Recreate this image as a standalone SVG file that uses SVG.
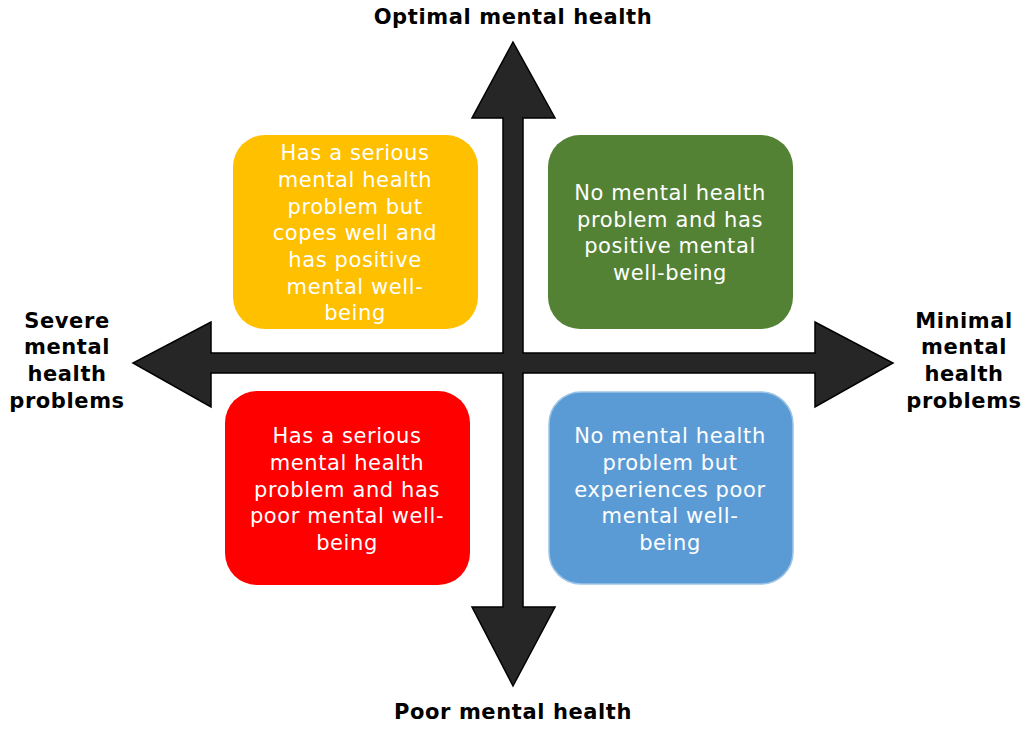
<svg xmlns="http://www.w3.org/2000/svg" width="1036" height="744" viewBox="0 0 1036 744">
<style>
.box text { font-family: "DejaVu Sans", Verdana, sans-serif; font-size: 21px; letter-spacing: 0.6px; fill: #fff; text-anchor: middle; }
text.lab { font-family: "DejaVu Sans", Verdana, sans-serif; font-size: 21px; letter-spacing: 0.6px; font-weight: bold; fill: #000; text-anchor: middle; }
</style>
<rect width="1036" height="744" fill="#fff"/>
<g id="connectors">
<path d="M513,42 L555,118 L523,118 L523,353 L815,353 L815,322 L893,363 L815,407 L815,373 L523,373 L523,607 L555,607 L513,686 L472,607 L503,607 L503,373 L211,373 L211,407 L133,363 L211,322 L211,353 L503,353 L503,118 L472,118 Z" fill="#262626" stroke="#000" stroke-width="1.5" stroke-linejoin="miter"/>
</g>
<g id="box-yellow" class="box">
<rect x="233" y="135" width="245" height="194" rx="32" fill="#FFC000"/>
<text x="355" y="160">Has a serious</text>
<text x="355" y="187">mental health</text>
<text x="355" y="214">problem but</text>
<text x="355" y="240">copes well and</text>
<text x="355" y="267">has positive</text>
<text x="355" y="294">mental well-</text>
<text x="355" y="320">being</text>
</g>
<g id="box-green" class="box">
<rect x="548" y="135" width="245" height="194" rx="32" fill="#548235"/>
<text x="670" y="200">No mental health</text>
<text x="670" y="227">problem and has</text>
<text x="670" y="253">positive mental</text>
<text x="670" y="280">well-being</text>
</g>
<g id="box-red" class="box">
<rect x="225" y="391" width="245" height="194" rx="32" fill="#FF0000"/>
<text x="347" y="443">Has a serious</text>
<text x="347" y="470">mental health</text>
<text x="347" y="497">problem and has</text>
<text x="347" y="523">poor mental well-</text>
<text x="347" y="550">being</text>
</g>
<g id="box-blue" class="box">
<rect x="549" y="392" width="244" height="192" rx="32" fill="#5B9BD5" stroke="#9DC3E6" stroke-width="1.5"/>
<text x="670" y="443">No mental health</text>
<text x="670" y="470">problem but</text>
<text x="670" y="497">experiences poor</text>
<text x="670" y="523">mental well-</text>
<text x="670" y="550">being</text>
</g>
<g id="label-top"><text class="lab" x="513" y="24">Optimal mental health</text></g>
<g id="label-bottom"><text class="lab" x="513" y="719">Poor mental health</text></g>
<g id="label-left">
<text class="lab" x="67" y="328">Severe</text>
<text class="lab" x="67" y="354">mental</text>
<text class="lab" x="67" y="381">health</text>
<text class="lab" x="67" y="408">problems</text>
</g>
<g id="label-right">
<text class="lab" x="964" y="328">Minimal</text>
<text class="lab" x="964" y="354">mental</text>
<text class="lab" x="964" y="381">health</text>
<text class="lab" x="964" y="408">problems</text>
</g>
</svg>
